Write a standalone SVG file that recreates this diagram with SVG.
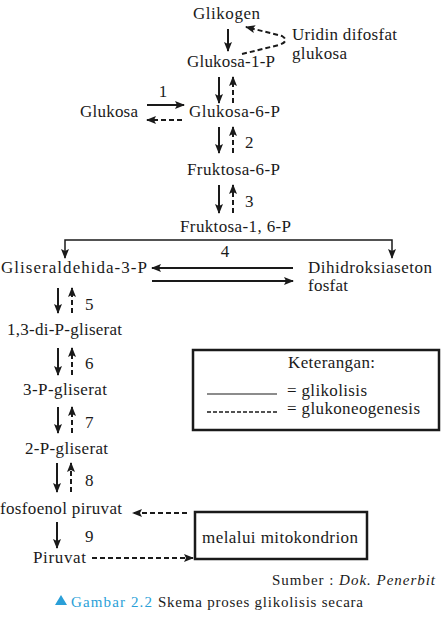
<svg xmlns="http://www.w3.org/2000/svg" width="445" height="618" viewBox="0 0 445 618" font-family="Liberation Serif, DejaVu Serif, serif">
<style>
text{font-size:17px;fill:#1a1a1a}
.m{text-anchor:middle}
.e{text-anchor:end}
.s{stroke:#1a1a1a;stroke-width:2;fill:none;marker-end:url(#ah)}
.d{stroke:#1a1a1a;stroke-width:2;fill:none;stroke-dasharray:5,3;marker-end:url(#ah)}
.b{stroke:#1a1a1a;stroke-width:1.5;fill:none;marker-end:url(#ah)}
.box{fill:#fff;stroke:#1a1a1a;stroke-width:2.5}
.c{font-size:15px}
</style>
<defs>
<marker id="ah" viewBox="0 0 10 8" refX="9" refY="4" markerWidth="10" markerHeight="8" markerUnits="userSpaceOnUse" orient="auto">
<path d="M0,0 L10,4 L0,8 L2,4 z" fill="#1a1a1a"/>
</marker>
</defs>
<g id="connectors">
<line class="s" x1="228" y1="29" x2="228" y2="51"/>
<path class="d" d="M242,54 L279,45 Q290,41 282,36 L246,27"/>
<line class="s" x1="219" y1="77" x2="219" y2="103"/>
<line class="d" x1="233" y1="103" x2="233" y2="77"/>
<line class="s" x1="147" y1="105" x2="184" y2="105"/>
<line class="d" x1="182" y1="120" x2="147" y2="120"/>
<line class="s" x1="219" y1="127" x2="219" y2="153"/>
<line class="d" x1="233" y1="153" x2="233" y2="127"/>
<line class="s" x1="219" y1="185" x2="219" y2="213"/>
<line class="d" x1="233" y1="213" x2="233" y2="185"/>
<path class="b" d="M228,240 H65 V258"/>
<path class="b" d="M228,240 H392 V258"/>
<line class="s" x1="293" y1="268" x2="152" y2="268"/>
<line class="s" x1="152" y1="281" x2="293" y2="281"/>
<line class="s" x1="58" y1="288" x2="58" y2="313"/>
<line class="d" x1="72" y1="313" x2="72" y2="288"/>
<line class="s" x1="58" y1="348" x2="58" y2="375"/>
<line class="d" x1="72" y1="375" x2="72" y2="348"/>
<line class="s" x1="58" y1="407" x2="58" y2="433"/>
<line class="d" x1="72" y1="433" x2="72" y2="407"/>
<line class="s" x1="57" y1="463" x2="57" y2="492"/>
<line class="d" x1="71" y1="492" x2="71" y2="463"/>
<line class="d" x1="187" y1="513" x2="133" y2="513"/>
<line class="s" x1="57" y1="522" x2="57" y2="548"/>
<line class="d" x1="92" y1="558" x2="193" y2="558"/>
</g>
<g id="glikogen"><text x="193" y="19" textLength="67" lengthAdjust="spacing">Glikogen</text></g>
<g id="glukosa1p"><text x="187" y="67" textLength="88" lengthAdjust="spacing">Glukosa-1-P</text></g>
<g id="udpg"><text x="292" y="40" textLength="105" lengthAdjust="spacing">Uridin difosfat</text><text x="292" y="59" textLength="55" lengthAdjust="spacing">glukosa</text></g>
<g id="glukosa"><text x="80" y="117" textLength="58" lengthAdjust="spacing">Glukosa</text></g>
<g id="glukosa6p"><text x="189" y="117" textLength="91" lengthAdjust="spacing">Glukosa-6-P</text></g>
<g id="fruktosa6p"><text x="187" y="175" textLength="93" lengthAdjust="spacing">Fruktosa-6-P</text></g>
<g id="fruktosa16p"><text x="180" y="232" textLength="111" lengthAdjust="spacing">Fruktosa-1, 6-P</text></g>
<g id="g3p"><text x="1" y="273" textLength="146" lengthAdjust="spacing">Gliseraldehida-3-P</text></g>
<g id="dhap"><text x="308" y="273" textLength="124" lengthAdjust="spacing">Dihidroksiaseton</text><text x="308" y="291" textLength="40" lengthAdjust="spacing">fosfat</text></g>
<g id="bpg"><text x="7" y="335" textLength="115" lengthAdjust="spacing">1,3-di-P-gliserat</text></g>
<g id="pg3"><text x="23" y="395" textLength="84" lengthAdjust="spacing">3-P-gliserat</text></g>
<g id="pg2"><text x="25" y="454" textLength="83" lengthAdjust="spacing">2-P-gliserat</text></g>
<g id="pep"><text x="0" y="514" textLength="122" lengthAdjust="spacing">fosfoenol piruvat</text></g>
<g id="piruvat"><text x="33" y="563" textLength="53" lengthAdjust="spacing">Piruvat</text></g>
<g id="mito"><rect class="box" x="195" y="512" width="172" height="47"/><text x="202" y="543" textLength="156" lengthAdjust="spacing">melalui mitokondrion</text></g>
<g id="labels">
<text class="m" x="163" y="97">1</text>
<text x="245" y="148">2</text>
<text x="245" y="207">3</text>
<text class="m" x="225" y="257">4</text>
<text x="85" y="310">5</text>
<text x="85" y="369">6</text>
<text x="85" y="428">7</text>
<text x="85" y="486">8</text>
<text x="85" y="542">9</text>
</g>
<g id="legend">
<rect class="box" x="193" y="350" width="246" height="80" stroke-width="3"/>
<text x="288" y="368" textLength="87" lengthAdjust="spacing">Keterangan:</text>
<line x1="207" y1="394" x2="277" y2="394" stroke="#1a1a1a" stroke-width="1.2"/>
<text x="287" y="396" textLength="80" lengthAdjust="spacing">= glikolisis</text>
<line x1="207" y1="412" x2="277" y2="412" stroke="#1a1a1a" stroke-width="1.5" stroke-dasharray="4,2"/>
<text x="287" y="414" textLength="133" lengthAdjust="spacing">= glukoneogenesis</text>
</g>
<g id="caption">
<text class="c" x="272" y="585" textLength="163" lengthAdjust="spacing">Sumber : <tspan font-style="italic">Dok. Penerbit</tspan></text>
<polygon points="55,605 61,595 67,605" fill="#2a9fd8"/>
<text class="c" x="71" y="607" textLength="81" lengthAdjust="spacing" style="fill:#2a9fd8">Gambar 2.2</text>
<text class="c" x="158" y="607" textLength="205" lengthAdjust="spacing">Skema proses glikolisis secara</text>
</g>
</svg>
